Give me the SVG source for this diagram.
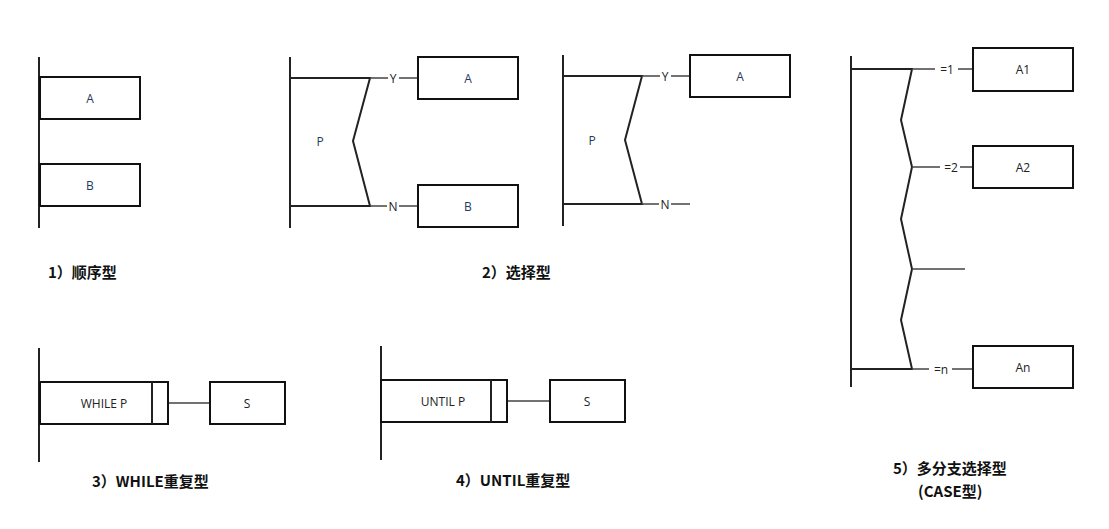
<svg xmlns="http://www.w3.org/2000/svg" width="1109" height="529" viewBox="0 0 1109 529">
<style>
.l{stroke:#222;stroke-width:2;fill:none}
.t{stroke:#444;stroke-width:1.5;fill:none}
.b{stroke:#111;stroke-width:2;fill:#fff}
text{font-family:"Open Sans","Liberation Sans",sans-serif;font-size:12px;fill:#1f3a60;text-anchor:middle}
.k{fill:#222}
.c{font-weight:bold;font-size:15px;fill:#111;font-family:"Noto Sans CJK SC","Liberation Sans",sans-serif;text-anchor:start}
</style>
<rect width="1109" height="529" fill="#fff"/>
<g id="connectors">
<path class="l" d="M39 57V228"/>
<path class="l" d="M290 57V228M290 78H370L353 141L370 206H290"/>
<path class="t" d="M370 78H388M399 78H418M370 206H387M399 206H418"/>
<path class="l" d="M563 55V226M563 76H642L625 140L642 204H563"/>
<path class="t" d="M642 76H660M671 76H690M642 204H659M671 204H690"/>
<path class="l" d="M39 348V462M381 346V460"/>
<path class="t" d="M168 403H210M507 401H550"/>
<path class="l" d="M851 56V387M851 69H912L901 120L912 167L901 219L912 269L901 320L912 369H851"/>
<path class="t" d="M912 69H935M958 69H973M912 167H940M960 167H973M912 269H965M912 369H929M952 369H973"/>
</g>
<g id="seqA"><rect class="b" x="40" y="77" width="100" height="42"/><text x="90" y="103">A</text></g>
<g id="seqB"><rect class="b" x="40" y="164" width="100" height="42"/><text x="90" y="190">B</text></g>
<g id="sel1P"><text x="320" y="146">P</text><text class="k" x="393" y="83">Y</text><text class="k" x="393" y="211">N</text></g>
<g id="sel1A"><rect class="b" x="418" y="57" width="100" height="42"/><text x="468" y="83">A</text></g>
<g id="sel1B"><rect class="b" x="418" y="185" width="100" height="42"/><text x="468" y="211">B</text></g>
<g id="sel2P"><text x="592" y="145">P</text><text class="k" x="665" y="81">Y</text><text class="k" x="665" y="209">N</text></g>
<g id="sel2A"><rect class="b" x="690" y="55" width="100" height="42"/><text x="740" y="81">A</text></g>
<g id="whileP"><rect class="b" x="40" y="382" width="128" height="42"/><path class="l" d="M152 382V424"/><text class="k" x="104" y="408">WHILE P</text></g>
<g id="whileS"><rect class="b" x="210" y="382" width="75" height="42"/><text class="k" x="247" y="408">S</text></g>
<g id="untilP"><rect class="b" x="381" y="380" width="126" height="42"/><path class="l" d="M491 380V422"/><text class="k" x="443" y="406">UNTIL P</text></g>
<g id="untilS"><rect class="b" x="550" y="380" width="75" height="42"/><text class="k" x="587" y="406">S</text></g>
<g id="caseA1"><text class="k" x="947" y="74">=1</text><rect class="b" x="973" y="48" width="100" height="43"/><text class="k" x="1023" y="74">A1</text></g>
<g id="caseA2"><text class="k" x="951" y="172">=2</text><rect class="b" x="973" y="146" width="100" height="42"/><text class="k" x="1023" y="172">A2</text></g>
<g id="caseAn"><text class="k" x="941" y="374">=n</text><rect class="b" x="973" y="346" width="100" height="42"/><text class="k" x="1023" y="372">An</text></g>
<g id="labels">
<text class="c" x="48" y="278">1）顺序型</text>
<text class="c" x="482" y="278">2）选择型</text>
<text class="c" x="92" y="487">3）WHILE重复型</text>
<text class="c" x="456" y="486">4）UNTIL重复型</text>
<text class="c" x="893" y="474">5）多分支选择型</text>
<text class="c" x="918" y="497">(CASE型)</text>
</g>
</svg>
